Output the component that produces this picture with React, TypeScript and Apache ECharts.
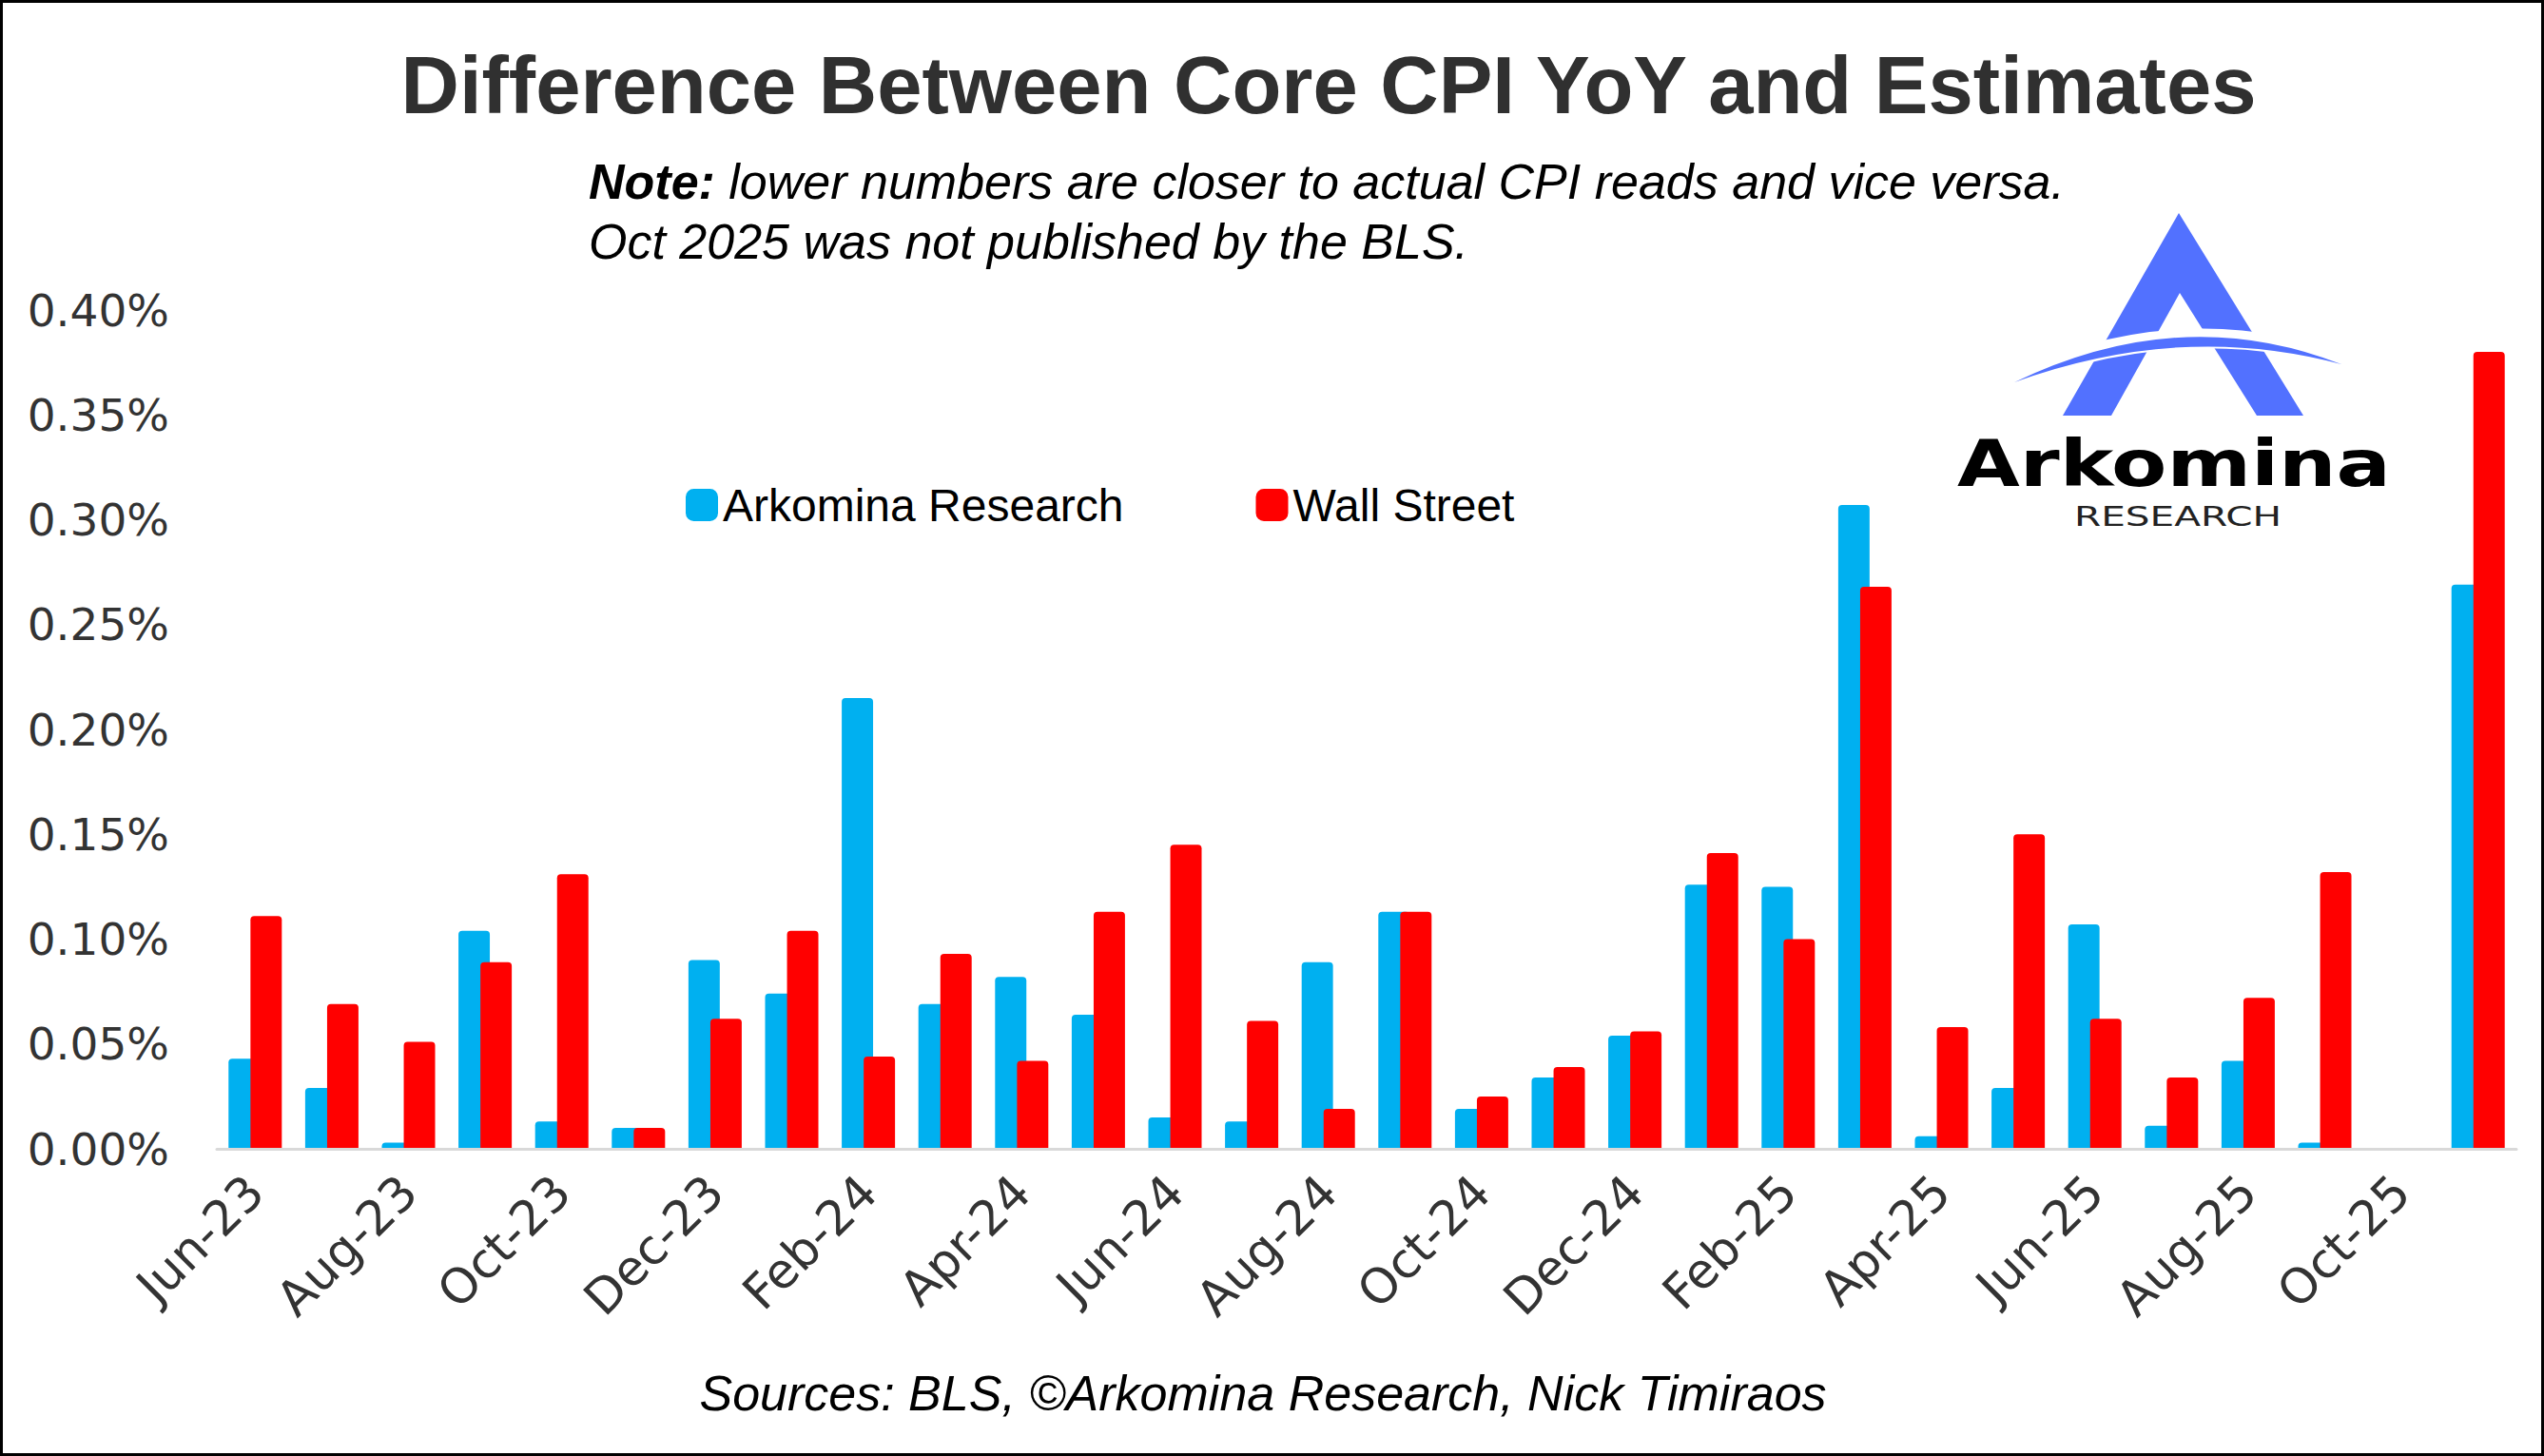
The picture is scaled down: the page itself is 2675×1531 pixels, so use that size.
import { useEffect, useRef } from 'react';
import * as echarts from 'echarts';

// Monthly CPI release months (Oct-25 was not published)
const months = [
  'Jun-23', 'Jul-23', 'Aug-23', 'Sep-23', 'Oct-23', 'Nov-23', 'Dec-23',
  'Jan-24', 'Feb-24', 'Mar-24', 'Apr-24', 'May-24', 'Jun-24', 'Jul-24',
  'Aug-24', 'Sep-24', 'Oct-24', 'Nov-24', 'Dec-24', 'Jan-25', 'Feb-25',
  'Mar-25', 'Apr-25', 'May-25', 'Jun-25', 'Jul-25', 'Aug-25', 'Sep-25',
  'Oct-25', 'Nov-25',
];

// Absolute difference between the estimate and the actual core CPI YoY, in percentage points
const arkominaResearch = [
  0.043, 0.029, 0.003, 0.104, 0.013, 0.010, 0.090,
  0.074, 0.215, 0.069, 0.082, 0.064, 0.015, 0.013,
  0.089, 0.113, 0.019, 0.034, 0.054, 0.126, 0.125,
  0.307, 0.006, 0.029, 0.107, 0.011, 0.042, 0.003,
  null, 0.269,
];

const wallStreet = [
  0.111, 0.069, 0.051, 0.089, 0.131, 0.010, 0.062,
  0.104, 0.044, 0.093, 0.042, 0.113, 0.145, 0.061,
  0.019, 0.113, 0.025, 0.039, 0.056, 0.141, 0.100,
  0.268, 0.058, 0.150, 0.062, 0.034, 0.072, 0.132,
  null, 0.380,
];

const seriesNames = ['Arkomina Research', 'Wall Street'];
const seriesColors = ['#00B0F0', '#FF0000'];

const yMin = 0;
const yMax = 0.4;
const yStep = 0.05;

const titleText = 'Difference Between Core CPI YoY and Estimates';
const noteLine1 = '{b|Note:} lower numbers are closer to actual CPI reads and vice versa.';
const noteLine2 = 'Oct 2025 was not published by the BLS.';
const sourcesText = 'Sources: BLS, \u00A9Arkomina Research, Nick Timiraos';

const W = 2675;
const H = 1531;

// Brand mark: swoosh crescent and the white gap it cuts through the "A"
echarts.graphic.registerShape(
  'arkSwoosh',
  echarts.graphic.extendPath('M2118,402 Q2294,317 2462,383 Q2294,338 2118,402 Z', {})
);
echarts.graphic.registerShape(
  'arkGap',
  echarts.graphic.extendPath('M2100,398 Q2294,305 2480,377 L2480,392 Q2294,331 2100,414 Z', {})
);

export default function App() {
  const ref = useRef<HTMLDivElement>(null);

  useEffect(() => {
    document.body.style.margin = '0';
    if (!ref.current) return;
    const chart = echarts.init(ref.current, undefined, { renderer: 'svg' });

    const axisFont = '"DejaVu Sans", sans-serif';
    const textFont = '"Liberation Sans", Arial, sans-serif';

    chart.setOption({
      animation: false,
      backgroundColor: '#ffffff',
      grid: { left: 228, right: 29, top: 326, bottom: 323, containLabel: false },
      legend: {
        data: seriesNames,
        left: 716,
        top: 502,
        itemWidth: 34,
        itemHeight: 34,
        itemGap: 139,
        icon: 'roundRect',
        textStyle: { fontFamily: textFont, fontSize: 48, color: '#000000' },
      },
      xAxis: {
        type: 'category',
        data: months,
        z: 10,
        axisLine: { show: true, lineStyle: { color: '#D9D9D9', width: 3 } },
        axisTick: { show: false },
        axisLabel: {
          interval: 1,
          rotate: 45,
          margin: 37,
          fontFamily: axisFont,
          fontSize: 51,
          color: '#333333',
        },
        splitLine: { show: false },
      },
      yAxis: {
        type: 'value',
        min: yMin,
        max: yMax,
        interval: yStep,
        axisLine: { show: false },
        axisTick: { show: false },
        splitLine: { show: false },
        axisLabel: {
          margin: 50,
          fontFamily: axisFont,
          fontSize: 47,
          color: '#333333',
          formatter: (v: number) => v.toFixed(2) + '%',
        },
      },
      series: [
        {
          name: seriesNames[0],
          type: 'bar',
          data: arkominaResearch,
          barCategoryGap: '30.5%',
          barGap: '-30%',
          itemStyle: { color: seriesColors[0], borderRadius: [4, 4, 0, 0] },
        },
        {
          name: seriesNames[1],
          type: 'bar',
          data: wallStreet,
          barCategoryGap: '30.5%',
          barGap: '-30%',
          itemStyle: { color: seriesColors[1], borderRadius: [4, 4, 0, 0] },
        },
      ],
      graphic: [
        {
          type: 'rect',
          silent: true,
          shape: { x: 1.5, y: 1.5, width: W - 3, height: H - 3 },
          style: { fill: 'none', stroke: '#000000', lineWidth: 3 },
        },
        {
          type: 'text',
          x: 1397,
          y: 89,
          style: {
            text: titleText,
            font: `bold 85px ${textFont}`,
            fill: '#303030',
            align: 'center',
            verticalAlign: 'middle',
          },
        },
        {
          type: 'text',
          x: 619,
          y: 191,
          style: {
            text: noteLine1,
            font: `italic 52px ${textFont}`,
            fill: '#000000',
            align: 'left',
            verticalAlign: 'middle',
            rich: {
              b: { font: `italic bold 52px ${textFont}`, fill: '#000000' },
            },
          },
        },
        {
          type: 'text',
          x: 619,
          y: 254,
          style: {
            text: noteLine2,
            font: `italic 52px ${textFont}`,
            fill: '#000000',
            align: 'left',
            verticalAlign: 'middle',
          },
        },
        {
          type: 'text',
          x: 1328,
          y: 1465,
          style: {
            text: sourcesText,
            font: `italic 52px ${textFont}`,
            fill: '#000000',
            align: 'center',
            verticalAlign: 'middle',
          },
        },
        // Brand mark
        {
          type: 'polygon',
          silent: true,
          shape: {
            points: [
              [2291, 224], [2169, 437], [2220, 437], [2292, 308],
              [2373, 437], [2422, 437],
            ],
          },
          style: { fill: '#5271FF' },
        },
        { type: 'arkGap', silent: true, style: { fill: '#ffffff' } },
        { type: 'arkSwoosh', silent: true, style: { fill: '#5271FF' } },
        {
          type: 'text',
          x: 2286,
          y: 488,
          scaleX: 1.25,
          style: {
            text: 'Arkomina',
            font: 'bold 68px "DejaVu Sans", sans-serif',
            fill: '#000000',
            align: 'center',
            verticalAlign: 'middle',
          },
        },
        {
          type: 'text',
          x: 2290,
          y: 543,
          scaleX: 1.45,
          style: {
            text: 'RESEARCH',
            font: '28px "DejaVu Sans", sans-serif',
            fill: '#222222',
            align: 'center',
            verticalAlign: 'middle',
          },
        },
      ],
    });

    return () => chart.dispose();
  }, []);

  return <div ref={ref} style={{ width: W, height: H }} />;
}
